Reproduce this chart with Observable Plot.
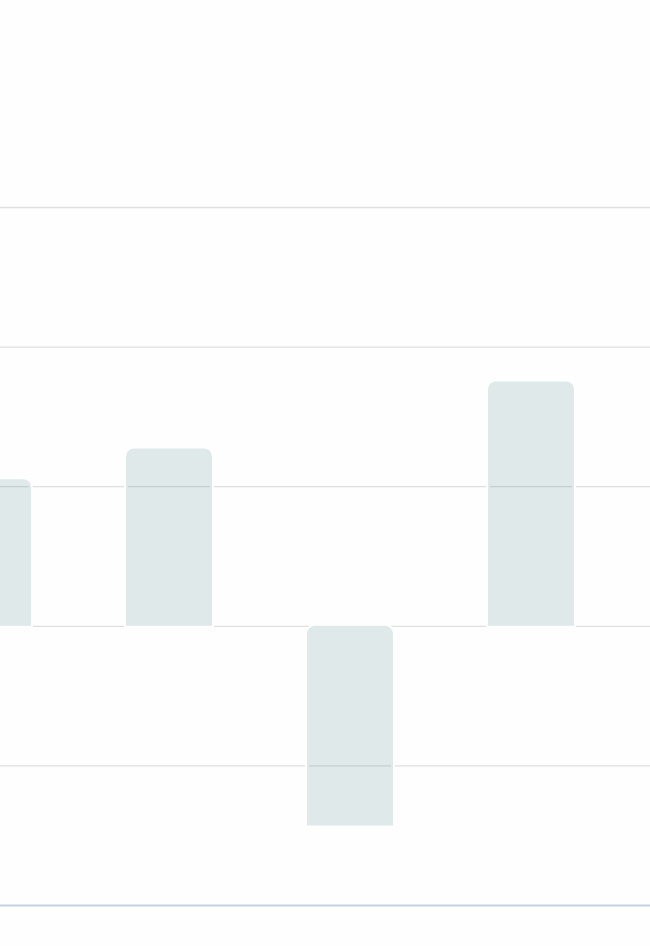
<!DOCTYPE html>
<html>
<head>
<meta charset="utf-8">
<script src="https://cdn.jsdelivr.net/npm/d3@7"></script>
<script src="https://cdn.jsdelivr.net/npm/@observablehq/plot@0.6"></script>
<style>
  html, body { margin: 0; padding: 0; background: #fefefe; }
  #chart svg { display: block; overflow: hidden; }
</style>
</head>
<body>
<div id="chart"></div>
<script>
const categories = ["A", "B", "C", "D"];
const values = [1.05, 1.27, -1.43, 1.75];
const gridTicks = [-1, 0, 1, 2, 3];
const baseTick = [-2];

const data = categories.map((c, i) => ({category: c, value: values[i]}));

const chart = Plot.plot({
  width: 650,
  height: 946,
  marginTop: 0,
  marginRight: 0,
  marginBottom: 0,
  marginLeft: 0,
  style: {background: "#fefefe"},
  x: {domain: categories, range: [-150, 669], padding: 0.525, round: false, axis: null},
  y: {domain: [-2, 3], range: [905, 207], axis: null},
  marks: [
    Plot.ruleY(gridTicks, {stroke: "#e0e0e0", strokeWidth: 1.3}),
    Plot.ruleY(baseTick, {stroke: "#c6d1e6", strokeWidth: 2}),
    Plot.barY(data, {
      x: "category",
      y: "value",
      fill: "#30737a",
      fillOpacity: 0.15,
      stroke: "#fefefe",
      strokeWidth: 4,
      paintOrder: "stroke",
      ry1: 8
    })
  ]
});
document.getElementById("chart").appendChild(chart);
</script>
</body>
</html>
